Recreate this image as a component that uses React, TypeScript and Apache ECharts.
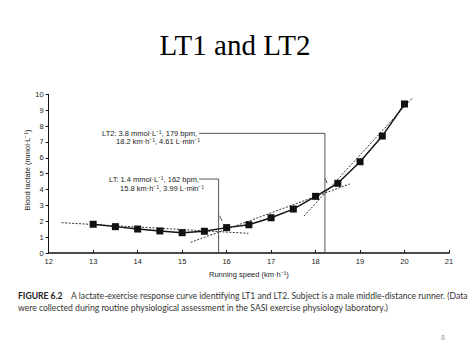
import React, { useEffect, useRef } from "react";
import * as echarts from "echarts";

const speeds = [13, 13.5, 14, 14.5, 15, 15.5, 16, 16.5, 17, 17.5, 18, 18.5, 19, 19.5, 20];
const lactate = [1.81, 1.66, 1.51, 1.39, 1.28, 1.37, 1.6, 1.78, 2.22, 2.77, 3.57, 4.39, 5.75, 7.37, 9.39];

const baselineFit = [[12.29, 1.91], [16.49, 1.24]];
const midFit = [[15.19, 0.67], [18.77, 4.35]];
const steepFit = [[17.74, 2.33], [20.19, 9.81]];
const lt1Bracket = [[15.38, 4.66], [15.82, 4.66], [15.82, 0]];
const lt2Bracket = [[15.38, 7.54], [18.21, 7.54], [18.21, 0]];
const lt1Mark = [[15.84, 2.35], [15.9, 2.02]];
const lt2Mark = [[18.22, 4.68], [18.26, 4.4]];

const xMin = 12;
const xMax = 21;
const yMin = 0;
const yMax = 10;

const title = "LT1 and LT2";
const xName = "Running speed (km\u00b7h\u207b\u00b9)";
const yName = "Blood lactate (mmol\u00b7L\u207b\u00b9)";
const lt2Lines = ["LT2: 3.8 mmol\u00b7L\u207b\u00b9, 179 bpm,", "18.2 km\u00b7h\u207b\u00b9, 4.61 L\u00b7min\u207b\u00b9"];
const lt1Lines = ["LT: 1.4 mmol\u00b7L\u207b\u00b9, 162 bpm,", "15.8 km\u00b7h\u207b\u00b9, 3.99 L\u00b7min\u207b\u00b9"];
const captionHead = "FIGURE 6.2";
const captionLine1 = "A lactate-exercise response curve identifying LT1 and LT2. Subject is a male middle-distance runner. (Data";
const captionLine2 = "were collected during routine physiological assessment in the SASI exercise physiology laboratory.)";
const pageNumber = "8";

export default function App() {
  const ref = useRef<HTMLDivElement>(null);
  useEffect(() => {
    if (!ref.current) return;
    const chart = echarts.init(ref.current, null, { renderer: "svg" });
    const sans = "Liberation Sans, Arial, sans-serif";
    const capFont = "Lato, Open Sans, sans-serif";
    const fitLine = (data: number[][]) => ({
      type: "line",
      data,
      symbol: "none",
      silent: true,
      lineStyle: { color: "#333", width: 1, type: [2, 1.5] },
      z: 1,
    });
    const solidThin = (data: number[][]) => ({
      type: "line",
      data,
      symbol: "none",
      silent: true,
      lineStyle: { color: "#555", width: 1 },
      z: 1,
    });
    chart.setOption({
      animation: false,
      backgroundColor: "#fff",
      grid: { left: 48.7, right: 25, top: 94.3, bottom: 102, containLabel: false },
      xAxis: {
        type: "value",
        min: xMin,
        max: xMax,
        interval: 1,
        name: xName,
        nameLocation: "middle",
        nameGap: 17,
        nameTextStyle: { fontFamily: sans, fontSize: 7.5, color: "#222" },
        axisLine: { lineStyle: { color: "#111", width: 1.5 } },
        axisTick: { inside: true, length: 3, lineStyle: { color: "#111" } },
        axisLabel: { fontFamily: sans, fontSize: 7.5, color: "#222", margin: 4 },
        splitLine: { show: false },
      },
      yAxis: {
        type: "value",
        min: yMin,
        max: yMax,
        interval: 1,
        axisLine: { show: true, lineStyle: { color: "#111", width: 1 } },
        axisTick: { show: true, length: 3, lineStyle: { color: "#111" } },
        axisLabel: { fontFamily: sans, fontSize: 7.5, color: "#222", margin: 5 },
        splitLine: { show: false },
      },
      series: [
        fitLine(baselineFit),
        fitLine(midFit),
        fitLine(steepFit),
        solidThin(lt1Bracket),
        solidThin(lt2Bracket),
        solidThin(lt1Mark),
        solidThin(lt2Mark),
        {
          type: "line",
          data: speeds.map((s, i) => [s, lactate[i]]),
          symbol: "rect",
          symbolSize: 7,
          itemStyle: { color: "#111" },
          lineStyle: { color: "#111", width: 1.4 },
          z: 3,
        },
      ],
      graphic: [
        {
          type: "text",
          x: 235,
          y: 44.6,
          style: {
            text: title,
            fontFamily: "Liberation Serif, Times New Roman, serif",
            fontSize: 29,
            fill: "#000",
            align: "center",
            verticalAlign: "middle",
          },
        },
        {
          type: "text",
          x: 23,
          y: 170,
          rotation: Math.PI / 2,
          originX: 0,
          originY: 0,
          style: { text: yName, fontFamily: sans, fontSize: 7.5, fill: "#222", align: "center", verticalAlign: "top" },
        },
        {
          type: "text",
          x: 197,
          y: 133.3,
          style: { text: lt2Lines[0], fontFamily: sans, fontSize: 7.5, fill: "#222", align: "right", verticalAlign: "middle" },
        },
        {
          type: "text",
          x: 200,
          y: 141.7,
          style: { text: lt2Lines[1], fontFamily: sans, fontSize: 7.5, fill: "#222", align: "right", verticalAlign: "middle" },
        },
        {
          type: "text",
          x: 199,
          y: 179.5,
          style: { text: lt1Lines[0], fontFamily: sans, fontSize: 7.5, fill: "#222", align: "right", verticalAlign: "middle" },
        },
        {
          type: "text",
          x: 204,
          y: 188,
          style: { text: lt1Lines[1], fontFamily: sans, fontSize: 7.5, fill: "#222", align: "right", verticalAlign: "middle" },
        },
        {
          type: "text",
          x: 18,
          y: 296,
          style: {
            text: "{b|" + captionHead + "}    " + captionLine1,
            fontFamily: capFont,
            fontSize: 8.6,
            fill: "#333",
            verticalAlign: "middle",
            rich: { b: { fontFamily: capFont, fontSize: 8.6, fontWeight: "bold", fill: "#222" } },
          },
        },
        {
          type: "text",
          x: 18,
          y: 308,
          style: { text: captionLine2, fontFamily: capFont, fontSize: 8.6, fill: "#333", verticalAlign: "middle" },
        },
        {
          type: "text",
          x: 443,
          y: 337,
          style: { text: pageNumber, fontFamily: sans, fontSize: 7, fill: "#999", align: "center", verticalAlign: "middle" },
        },
      ],
    });
    return () => chart.dispose();
  }, []);
  return <div ref={ref} style={{ position: "absolute", left: 0, top: 0, width: 474, height: 355 }} />;
}
